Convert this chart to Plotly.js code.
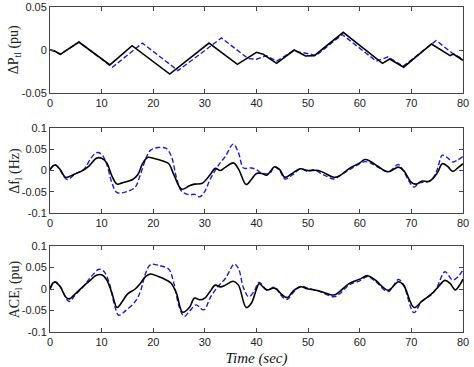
<!DOCTYPE html>
<html>
<head>
<meta charset="utf-8">
<script src="https://cdn.plot.ly/plotly-3.0.1.min.js"></script>
<style>html,body{margin:0;padding:0;background:#fff;}#chart{width:474px;height:367px;}</style>
</head>
<body>
<div id="chart"></div>
<script>
// Panel 1: ΔP_tl (pu)
const p1BlackT = [0, 0.8, 2, 5.6, 11.6, 15.9, 23.2, 30.8, 36.3, 40, 41.3, 43.9, 47.3, 49.5, 51.2, 56.8, 64.4, 65.8, 68.5, 73.9, 77.5, 78.1, 80];
const p1BlackY = [0, -0.001, -0.005, 0.0093, -0.0174, 0.005, -0.028, 0.008, -0.0167, -0.0027, -0.005, -0.0155, 0, -0.007, -0.0066, 0.0205, -0.0155, -0.0105, -0.020, 0.007, -0.0066, -0.0047, -0.012];
const p1BlueT = [0, 0.8, 2, 5.6, 12.1, 17.9, 24.8, 33.2, 38.4, 40, 41.9, 43.9, 47.1, 49.0, 50.6, 51.5, 56.6, 63.2, 65.5, 68.4, 74.8, 78, 80];
const p1BlueY = [0, -0.001, -0.005, 0.0093, -0.020, 0.008, -0.024, 0.014, -0.010, -0.0108, -0.0066, -0.013, -0.001, -0.003, -0.005, -0.0066, 0.018, -0.013, -0.008, -0.019, 0.011, -0.004, -0.011];

// Panel 2: Δf_l (Hz)
const p2BlackT = [0, 0.5, 1, 2, 3, 4.5, 6, 7.5, 9, 10, 11, 12, 13, 14, 16, 17, 18, 19, 20, 22, 23, 24, 25.5, 27, 28, 29.5, 31, 32, 33, 34, 35.5, 36.5, 38, 39, 40, 41, 42, 43.5, 44.5, 45.5, 47, 48.5, 50, 52, 55, 56, 58, 60, 61, 62, 63.5, 65.5, 67.5, 68.5, 70, 71, 72, 73.5, 75, 76, 77, 78, 79, 80];
const p2BlackY = [0.002, 0.010, 0.013, 0.002, -0.016, -0.010, -0.002, 0.010, 0.029, 0.029, 0.018, -0.013, -0.032, -0.029, -0.021, -0.010, 0.018, 0.031, 0.029, 0.022, 0.016, -0.010, -0.044, -0.036, -0.032, -0.030, -0.010, 0.005, 0, 0.008, 0.018, 0.004, -0.033, -0.021, -0.007, -0.007, -0.011, 0.009, 0.002, -0.016, -0.006, 0.004, 0, 0, -0.016, -0.013, 0.005, 0.018, 0.026, 0.022, 0.010, -0.003, 0.008, 0, -0.028, -0.032, -0.025, -0.025, -0.006, 0.016, 0.010, -0.002, 0.006, 0.016];
const p2BlueT = [0, 1, 2, 3.3, 5, 6.5, 8, 9, 10, 11, 12, 13, 15, 16.5, 17.5, 18.5, 19.5, 21, 22.5, 23.5, 24.5, 25.5, 27, 28, 29, 30, 31, 32.5, 34, 35.5, 36.5, 37.5, 39, 40, 41, 42.5, 43.5, 44.5, 45.5, 47, 48.5, 50, 51, 53, 55, 56, 58, 60, 61, 62, 63.5, 65.5, 67.5, 68.5, 70.5, 71.5, 73, 74, 75, 76, 77, 78, 79, 80];
const p2BlueY = [0.002, 0.014, 0.000, -0.021, -0.007, 0.002, 0.030, 0.042, 0.038, 0.014, -0.029, -0.052, -0.049, -0.039, -0.010, 0.026, 0.048, 0.054, 0.052, 0.034, -0.017, -0.049, -0.057, -0.056, -0.062, -0.049, -0.021, 0.010, 0.034, 0.062, 0.042, 0.006, 0.006, 0.002, -0.006, -0.007, 0.009, 0, -0.020, -0.010, 0.004, -0.002, 0.002, -0.010, -0.020, -0.013, 0.002, 0.016, 0.021, 0.018, 0.008, -0.003, 0.014, -0.002, -0.039, -0.029, -0.027, -0.021, 0.002, 0.036, 0.030, 0.020, 0.025, 0.033];

// Panel 3: ACE_l (pu)
const p3BlackT = [0, 0.5, 1, 2, 3, 3.7, 5, 6.5, 7.5, 9, 10, 11, 12, 13, 14, 15, 16.5, 17.5, 18.5, 19.5, 21, 22.5, 23.5, 24.5, 25.7, 27, 28, 29, 30, 31, 32, 33, 34, 35.5, 36.5, 38, 39, 40, 40.5, 42, 43.5, 45, 46, 47, 48.5, 50, 52, 55, 56, 58, 60, 61.5, 63, 65.5, 67.5, 68.5, 70.5, 72, 74, 75, 76.5, 77.5, 78.5, 79.5, 80];
const p3BlackY = [0, 0.013, 0.016, 0.005, -0.018, -0.023, -0.010, 0.007, 0.017, 0.032, 0.033, 0.021, -0.010, -0.043, -0.029, -0.012, 0, 0.013, 0.029, 0.035, 0.029, 0.021, 0.013, -0.010, -0.054, -0.043, -0.021, -0.025, -0.021, -0.006, 0.009, 0.005, 0.009, 0.018, 0.009, -0.043, -0.033, 0, 0.012, -0.002, 0.002, -0.014, -0.020, -0.006, 0.005, 0, -0.004, -0.014, -0.007, 0.013, 0.023, 0.031, 0.021, -0.003, 0.017, 0.009, -0.043, -0.029, -0.010, 0.002, 0.020, 0.013, -0.002, 0.012, 0.023];
const p3BlueT = [0, 1, 2, 3.7, 5, 6.5, 8, 9.5, 10.5, 11.5, 12.5, 13.3, 14.5, 16.5, 17.5, 18.5, 19.5, 21, 23, 24, 25, 26, 27, 28.3, 29.5, 30, 31, 32.5, 34, 35.7, 36.5, 37.5, 38.5, 39.5, 40.5, 42, 43.5, 45, 46, 47, 48.5, 50, 52, 55, 56, 58, 60, 61.5, 63, 65.5, 67.5, 68.5, 70.5, 72, 74, 75, 76.5, 78, 79, 80];
const p3BlueY = [0, 0.017, 0.005, -0.029, -0.012, 0.006, 0.029, 0.046, 0.040, 0.013, -0.037, -0.061, -0.052, -0.029, -0.006, 0.036, 0.057, 0.055, 0.046, 0.013, -0.040, -0.064, -0.052, -0.037, -0.048, -0.047, -0.021, 0.005, 0.025, 0.058, 0.048, 0.002, -0.018, -0.006, 0.015, -0.002, 0.004, -0.018, -0.024, -0.010, 0.006, 0.002, -0.005, -0.018, -0.012, 0.010, 0.019, 0.029, 0.018, -0.006, 0.022, 0.009, -0.055, -0.029, -0.012, 0.005, 0.040, 0.021, 0.028, 0.045];

const xTicks = [0, 10, 20, 30, 40, 50, 60, 70, 80];
const y1Ticks = [-0.05, 0, 0.05];
const y1Labels = ["-0.05", "0", "0.05"];
const y23Ticks = [-0.1, -0.05, 0, 0.05, 0.1];
const y23Labels = ["-0.1", "-0.05", "0", "0.05", "0.1"];
const yTitles = ["ΔP<sub>tl</sub> (pu)", "Δf<sub>l</sub> (Hz)", "ACE<sub>l</sub> (pu)"];
const xTitle = "Time (sec)";

const blackLine = {color: '#000000', width: 1.6};
const blueLine = {color: '#1a1adc', width: 1.4, dash: '5px,2.5px'};

const traces = [
  {x: p1BlueT, y: p1BlueY, xaxis: 'x', yaxis: 'y', mode: 'lines', line: Object.assign({}, blueLine, {shape: 'linear'})},
  {x: p1BlackT, y: p1BlackY, xaxis: 'x', yaxis: 'y', mode: 'lines', line: Object.assign({}, blackLine, {shape: 'linear'})},
  {x: p2BlueT, y: p2BlueY, xaxis: 'x2', yaxis: 'y2', mode: 'lines', line: Object.assign({}, blueLine, {shape: 'spline', smoothing: 1})},
  {x: p2BlackT, y: p2BlackY, xaxis: 'x2', yaxis: 'y2', mode: 'lines', line: Object.assign({}, blackLine, {shape: 'spline', smoothing: 1})},
  {x: p3BlueT, y: p3BlueY, xaxis: 'x3', yaxis: 'y3', mode: 'lines', line: Object.assign({}, blueLine, {shape: 'spline', smoothing: 1})},
  {x: p3BlackT, y: p3BlackY, xaxis: 'x3', yaxis: 'y3', mode: 'lines', line: Object.assign({}, blackLine, {shape: 'spline', smoothing: 1})}
];

const tickFont = {family: 'Liberation Sans, Arial, sans-serif', size: 11, color: '#222'};
const labelFont = {family: 'Liberation Serif, Times New Roman, serif', size: 14, color: '#222'};
function xAxis(anchor) {
  return {
    anchor: anchor, domain: [0, 1], range: [0, 80], tickvals: xTicks, ticktext: xTicks.map(String),
    showline: true, mirror: 'ticks', linecolor: '#444', linewidth: 1, ticks: 'inside', ticklen: 4, tickcolor: '#444',
    showgrid: false, zeroline: false, tickfont: tickFont, fixedrange: true
  };
}
function yAxis(anchor, domain, range, tv, tt) {
  return {
    anchor: anchor, domain: domain, range: range, tickvals: tv, ticktext: tt,
    showline: true, mirror: 'ticks', linecolor: '#444', linewidth: 1, ticks: 'inside', ticklen: 4, tickcolor: '#444',
    showgrid: false, zeroline: false, tickfont: tickFont, fixedrange: true
  };
}

const layout = {
  width: 474, height: 367,
  margin: {l: 50, r: 11, t: 7, b: 35},
  paper_bgcolor: '#ffffff', plot_bgcolor: '#ffffff',
  showlegend: false,
  xaxis: xAxis('y'),
  yaxis: yAxis('x', [0.7354, 1], [-0.05, 0.05], y1Ticks, y1Labels),
  xaxis2: xAxis('y2'),
  yaxis2: yAxis('x2', [0.366, 0.6277], [-0.1, 0.1], y23Ticks, y23Labels),
  xaxis3: Object.assign(xAxis('y3'), {title: {text: xTitle, standoff: 5, font: {family: 'Liberation Serif, Times New Roman, serif', size: 15, style: 'italic', weight: 'normal', color: '#111'}}}),
  yaxis3: yAxis('x3', [0, 0.2646], [-0.1, 0.1], y23Ticks, y23Labels),
  annotations: [
    {text: yTitles[0], xref: 'paper', yref: 'paper', x: -0.084, y: (0.7354 + 1) / 2, textangle: -90, showarrow: false, xanchor: 'center', yanchor: 'middle', font: labelFont},
    {text: yTitles[1], xref: 'paper', yref: 'paper', x: -0.084, y: (0.366 + 0.6277) / 2, textangle: -90, showarrow: false, xanchor: 'center', yanchor: 'middle', font: labelFont},
    {text: yTitles[2], xref: 'paper', yref: 'paper', x: -0.084, y: 0.2646 / 2, textangle: -90, showarrow: false, xanchor: 'center', yanchor: 'middle', font: labelFont}
  ]
};

Plotly.newPlot('chart', traces, layout, {displayModeBar: false, staticPlot: true});
</script>
</body>
</html>
